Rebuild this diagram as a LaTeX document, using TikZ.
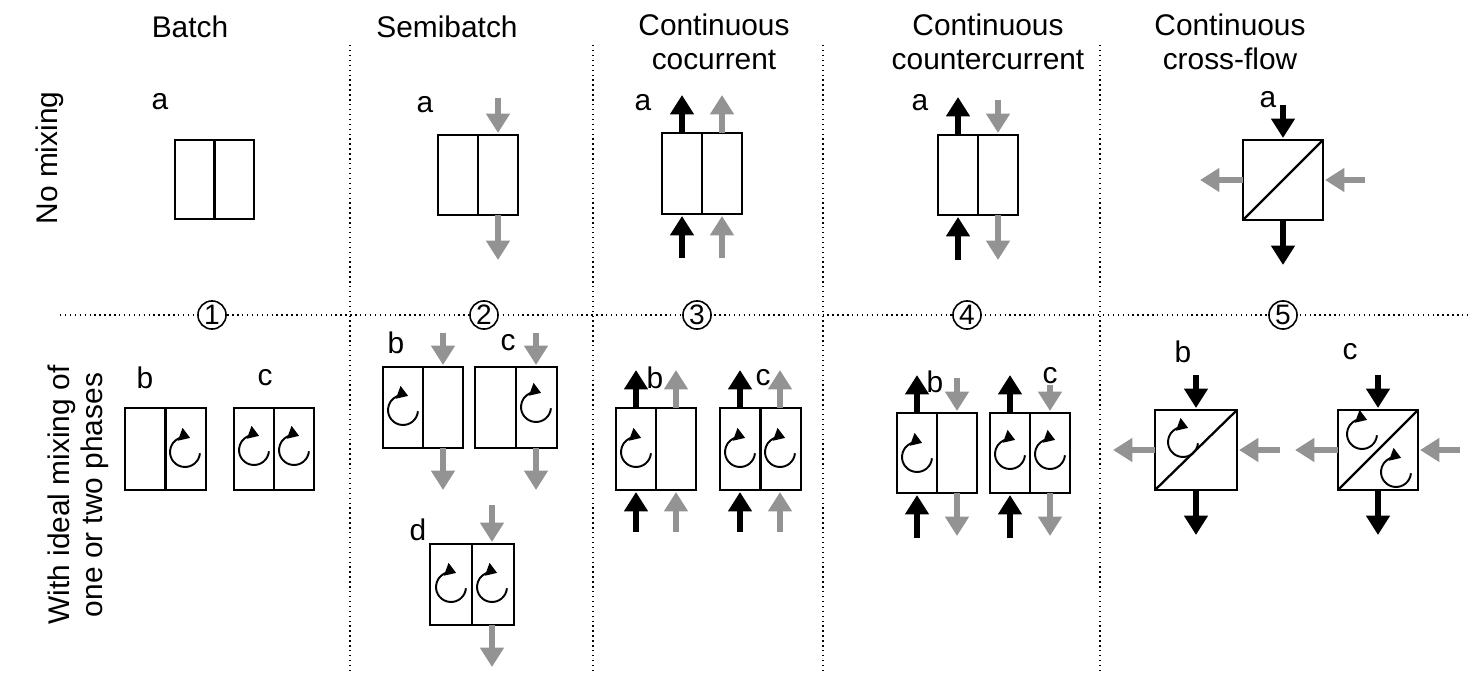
\documentclass[tikz,border=0pt]{standalone}
\usepackage{fontspec}
\setmainfont{Liberation Sans}
\usetikzlibrary{arrows.meta}
\tikzset{
  box/.style={draw,line width=1.3pt},
  barr/.style={line width=3.2pt,-{Triangle[width=13pt,length=11pt]}},
  garr/.style={barr,draw=gray!85},
  mixarr/.style={line width=1.1pt,-{Triangle[width=7.5pt,length=6pt]}},
  sep/.style={dotted,line width=0.8pt},
  lbl/.style={font=\fontsize{17}{19}\selectfont},
  num/.style={draw,circle,line width=0.9pt,minimum size=16pt,inner sep=0pt,fill=white,font=\fontsize{16}{18}\selectfont},
}
% mixer symbol centred at (x,y)
\def\mix#1#2{%
  \begin{scope}[shift={(#1,#2)},x=1cm,y=1cm]
  \draw[mixarr] (-5:0.3) arc[start angle=-5,end angle=-290,radius=0.3];
  \end{scope}
}
% two-compartment vessel: x1,y1,x2,y2
\def\vessel#1#2#3#4{%
  \draw[box] (#1,#2) rectangle (#3,#4);
  \draw[box] ({(#1+#3)/2},#2) -- ({(#1+#3)/2},#4);
}
\def\cross#1#2#3#4{%
  \draw[box] (#1,#2) rectangle (#3,#4);
  \draw[box] (#1,#4) -- (#3,#2);
}
\begin{document}
\begin{tikzpicture}[x=0.02cm,y=-0.02cm]
\useasboundingbox (0,0) rectangle (1481,689);
%headers
\node[lbl] (hb) at (190,27) {Batch};
\node[lbl] (hs) at (447,27) {Semibatch};
\node[lbl,align=center] (hc) at (714,42) {Continuous\\cocurrent};
\node[lbl,align=center] (hcc) at (988,42) {Continuous\\countercurrent};
\node[lbl,align=center] (hx) at (1230,42) {Continuous\\cross-flow};
\node[lbl,rotate=90] (nm) at (50,158) {No mixing};
\node[lbl,rotate=90,align=center] (im) at (78,495) {With ideal mixing of\\one or two phases};
%separators
\foreach \x in {350,593,823,1100}
  \draw[sep] (\x,45) -- (\x,670);
\draw[sep] (60,315) -- (1470,315);
\foreach \x/\n in {212/1,484/2,697/3,967/4,1283/5}
  \node[num] (n\n) at (\x,315) {\n};
%batch
\node[lbl] (ba) at (160,102) {a};
\vessel{175}{140}{254}{219}
\node[lbl] (bb) at (145,378) {b};
\vessel{125}{408}{206}{490}
\mix{185}{452}
\node[lbl] (bc) at (265,378) {c};
\vessel{234}{408}{314}{490}
\mix{254}{450}
\mix{294}{450}
%semibatch
\node[lbl] (sa) at (425,105) {a};
\vessel{438}{135}{518}{215}
\draw[garr] (498,98) -- (498,133);
\draw[garr] (498,215) -- (498,260);
\node[lbl] (sb) at (396,343) {b};
\vessel{383}{367}{463}{448}
\mix{403}{410}
\draw[garr] (443,333) -- (443,365);
\draw[garr] (443,448) -- (443,490);
\node[lbl] (sc) at (508,343) {c};
\vessel{475}{367}{557}{448}
\mix{536}{407}
\draw[garr] (536,333) -- (536,365);
\draw[garr] (536,448) -- (536,490);
\node[lbl] (sd) at (418,530) {d};
\vessel{430}{544}{514}{625}
\mix{451}{587}
\mix{492}{587}
\draw[garr] (492,505) -- (492,542);
\draw[garr] (492,625) -- (492,667);
%cocurrent
\node[lbl] (ca) at (643,103) {a};
\vessel{662}{133}{742}{214}
\draw[barr] (682,133) -- (682,95);
\draw[garr] (722,133) -- (722,95);
\draw[barr] (682,258) -- (682,216);
\draw[garr] (722,258) -- (722,216);
\node[lbl] (cb) at (655,378) {b};
\vessel{616}{408}{696}{490}
\mix{636}{452}
\draw[barr] (636,408) -- (636,370);
\draw[garr] (676,408) -- (676,370);
\draw[barr] (636,532) -- (636,492);
\draw[garr] (676,532) -- (676,492);
\node[lbl] (cc) at (763,378) {c};
\vessel{720}{408}{801}{490}
\mix{740}{452}
\mix{780}{452}
\draw[barr] (740,408) -- (740,370);
\draw[garr] (780,408) -- (780,370);
\draw[barr] (740,532) -- (740,492);
\draw[garr] (780,532) -- (780,492);
%countercurrent
\node[lbl] (ka) at (920,103) {a};
\vessel{938}{135}{1018}{215}
\draw[barr] (958,135) -- (958,97);
\draw[garr] (998,100) -- (998,133);
\draw[barr] (958,260) -- (958,217);
\draw[garr] (998,215) -- (998,260);
\node[lbl] (kb) at (935,382) {b};
\vessel{897}{413}{977}{493}
\mix{917}{457}
\draw[barr] (917,413) -- (917,375);
\draw[garr] (957,378) -- (957,411);
\draw[barr] (917,538) -- (917,495);
\draw[garr] (957,493) -- (957,536);
\node[lbl] (kc) at (1050,376) {c};
\vessel{990}{413}{1070}{493}
\mix{1010}{454}
\mix{1050}{454}
\draw[barr] (1010,413) -- (1010,375);
\draw[garr] (1050,385) -- (1050,411);
\draw[barr] (1010,538) -- (1010,495);
\draw[garr] (1050,493) -- (1050,536);
%cross-flow
\node[lbl] (xa) at (1268,100) {a};
\cross{1243}{140}{1323}{220}
\draw[barr] (1283,105) -- (1283,138);
\draw[barr] (1283,220) -- (1283,265);
\draw[garr] (1365,180) -- (1325,180);
\draw[garr] (1243,180) -- (1200,180);
\node[lbl] (xb) at (1183,352) {b};
\cross{1155}{410}{1237}{490}
\mix{1183}{442}
\draw[barr] (1196,375) -- (1196,408);
\draw[barr] (1196,490) -- (1196,535);
\draw[garr] (1280,450) -- (1239,450);
\draw[garr] (1155,450) -- (1113,450);
\node[lbl] (xc) at (1350,352) {c};
\cross{1338}{410}{1418}{490}
\mix{1362}{434}
\mix{1396}{472}
\draw[barr] (1378,375) -- (1378,408);
\draw[barr] (1378,490) -- (1378,535);
\draw[garr] (1460,450) -- (1420,450);
\draw[garr] (1338,450) -- (1295,450);
\end{tikzpicture}
\end{document}
